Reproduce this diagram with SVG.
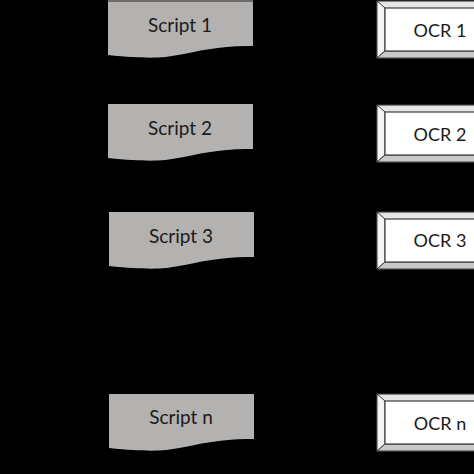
<svg xmlns="http://www.w3.org/2000/svg" width="474" height="474" viewBox="0 0 474 474">
<style>
.doc{fill:#b4b1b1;stroke:none}
.lbl{font-family:Lato,"Open Sans","Liberation Sans",sans-serif;font-size:18px;fill:#1a1a1a;text-anchor:middle}
.sl{font-size:19px}
.outer{fill:#e6e6e6;stroke:#3c3c3c;stroke-width:1.2}
.face{fill:#ffffff;stroke:#3c3c3c;stroke-width:1.2}
.bl{fill:#f4f4f4;stroke:#3c3c3c;stroke-width:1}
.bb{fill:#c9c9c9;stroke:#3c3c3c;stroke-width:1}
</style>
<defs>
<path id="docshape" d="M0,0 H145 V45 C115,44 90,50 70,54 C55,57 40,58 0,54 Z"/>
<g id="ocrbox">
<rect class="outer" x="0" y="0" width="120" height="57"/>
<polygon class="bl" points="0,0 8,7 8,50 0,57"/>
<polygon class="bb" points="0,57 8,50 120,50 120,57"/>
<rect class="face" x="8" y="7" width="120" height="43"/>
</g>
</defs>
<rect x="0" y="0" width="474" height="474" fill="#000000"/>
<g id="connectors"></g>
<g id="script1">
<use href="#docshape" transform="translate(108,1)" class="doc"/>
<rect x="108" y="0" width="145" height="2" fill="#6e6b6b"/>
<text class="lbl sl" x="180" y="32">Script 1</text>
</g>
<g id="script2">
<use href="#docshape" transform="translate(108,104)" class="doc"/>
<text class="lbl sl" x="180" y="135">Script 2</text>
</g>
<g id="script3">
<use href="#docshape" transform="translate(109,212)" class="doc"/>
<text class="lbl sl" x="181" y="243">Script 3</text>
</g>
<g id="scriptn">
<use href="#docshape" transform="translate(109,394)" class="doc"/>
<text class="lbl sl" x="181" y="424">Script n</text>
</g>
<g id="ocr1">
<use href="#ocrbox" transform="translate(377,1)"/>
<text class="lbl" x="440" y="37">OCR 1</text>
</g>
<g id="ocr2">
<use href="#ocrbox" transform="translate(377,105)"/>
<text class="lbl" x="440" y="141">OCR 2</text>
</g>
<g id="ocr3">
<use href="#ocrbox" transform="translate(377,212)"/>
<text class="lbl" x="440" y="247">OCR 3</text>
</g>
<g id="ocrn">
<use href="#ocrbox" transform="translate(377,394)"/>
<text class="lbl" x="440" y="430">OCR n</text>
</g>
</svg>
